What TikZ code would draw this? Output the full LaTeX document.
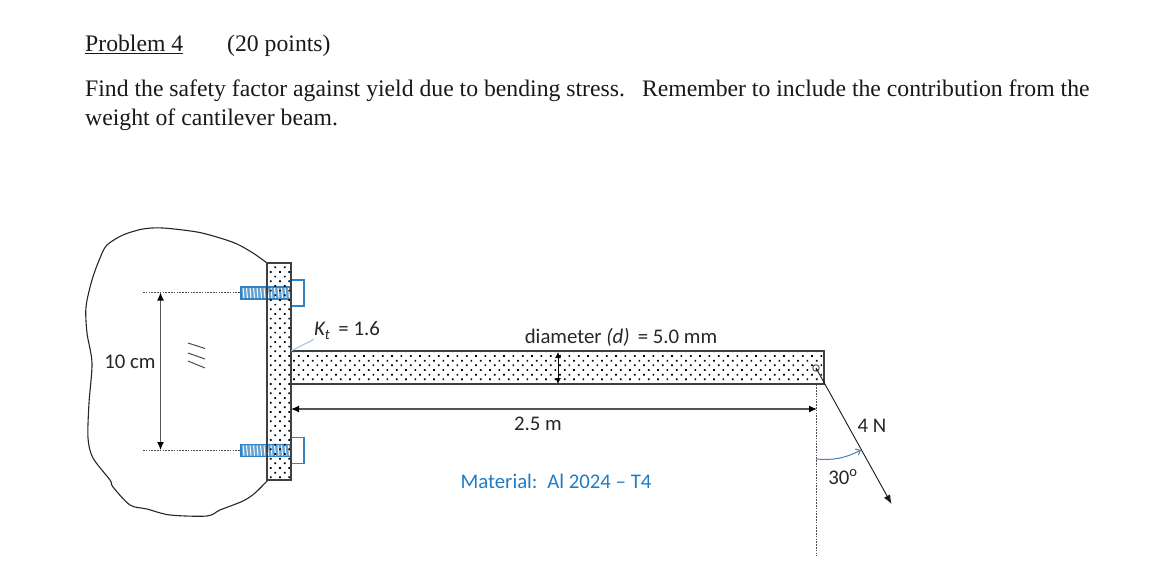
\documentclass[tikz,border=0pt]{standalone}
\usepackage{fontspec}
\setmainfont{Liberation Serif}
\newfontfamily\labelfont{Carlito}
\usepackage{xcolor}
\definecolor{colorBolt}{HTML}{2E83C6}
\definecolor{colorLeader}{HTML}{9CC3E6}
\definecolor{colorAngle}{HTML}{4A7FB0}
\definecolor{colorMaterial}{HTML}{1F7CC4}
\definecolor{colorDim}{HTML}{555555}
\usetikzlibrary{arrows.meta, patterns.meta}
\tikzset{
  prose/.style={anchor=base west, inner sep=0pt, font=\fontsize{23.7}{23.7}\selectfont, text=black!90},
  dimlabel/.style={inner sep=0pt, font=\labelfont\fontsize{20.8}{20.8}\selectfont, text=black!85},
  dotted fill/.style={draw=black!75, line width=1.2pt, pattern={Dots[distance=6.6pt, radius=1.2pt, angle=45]}, pattern color=black, inner sep=0pt, outer sep=0pt},
  boltshank/.style={draw=colorBolt, line width=1.2pt, fill=colorBolt!75, minimum width=50pt, minimum height=12pt, inner sep=0pt, outer sep=0pt},
  bolthead/.style={draw=colorBolt, line width=1.2pt, minimum width=13pt, minimum height=26pt, inner sep=0pt, outer sep=0pt},
  dimline/.style={draw=colorDim, line width=1.3pt, {Latex[length=8pt,width=7pt,black]}-{Latex[length=8pt,width=7pt,black]}},
  refline/.style={draw=black!70, line width=1pt, dash pattern=on 1.6pt off 1.2pt}
}
\begin{document}
\begin{tikzpicture}[x=1pt, y=-1pt]
\useasboundingbox (0,0) rectangle (1170,580);
% problem text
\node[prose] (title) at (85,51.5) {\underline{Problem 4}};
\node[prose] (points) at (227,51.5) {(20 points)};
\node[prose] (line1) at (85,96.5) {Find the safety factor against yield due to bending stress.\hspace{0.72em}Remember to include the contribution from the};
\node[prose] (line2) at (85,125.5) {weight of cantilever beam.};
% wall outline
\draw[black!85, line width=1.1pt] plot[smooth, tension=0.5] coordinates {(267,263) (253,253) (237,244) (220,238) (197,232) (163,228) (143,229) (123,235) (107,245) (100,258) (92,280) (86,307) (87,333) (92,363) (89,403) (88,438) (93,458) (110,480) (113,487) (130,505) (147,509) (170,515) (207,516) (220,510) (243,501) (255,493) (268,480)};
% bolts
\node[boltshank] (shankTop) at (266,293) {};
\node[boltshank] (shankBottom) at (266,450.5) {};
\node[bolthead, anchor=west] (headTop) at (shankTop.east) {};
\node[bolthead, anchor=west] (headBottom) at (shankBottom.east) {};
\foreach \x in {243,246.5,...,289} {
  \draw[white, line width=1pt] (\x,288) -- (\x+1,298);
  \draw[white, line width=1pt] (\x,445.5) -- (\x+1,455.5);
}
% plate and beam
\node[dotted fill, minimum width=24pt, minimum height=217pt] (plate) at (279,371.5) {};
\node[dotted fill, minimum width=533pt, minimum height=33pt] (beam) at (557.5,367.5) {};
\coordinate (dotTopA) at (143,292);
\coordinate (dotBottomA) at (143,450);
\draw[refline] (dotTopA) -- (shankTop.west |- dotTopA);
\draw[refline] (dotBottomA) -- (shankBottom.west |- dotBottomA);
% ten centimetre dimension
\coordinate (spanTop) at (160.5,292.5);
\coordinate (spanBottom) at (160.5,450);
\draw[dimline] (spanTop) -- (spanBottom);
\node[dimlabel] (spanLabel) at (130,362) {10 cm};
% ground hatch
\coordinate (hatchA) at (188,343);
\coordinate (hatchB) at (205,348.5);
\coordinate (hatchC) at (188,353);
\coordinate (hatchD) at (205,359);
\coordinate (hatchE) at (188,361);
\coordinate (hatchF) at (205,368);
\draw[black!70, line width=1pt] (hatchA) -- (hatchB) (hatchC) -- (hatchD) (hatchE) -- (hatchF);
% beam labels
\node[dimlabel] (ktLabel) at (347,330.5) {\textit{K\textsubscript{t}}\, = 1.6};
\draw[colorLeader, line width=1pt] (beam.north west) -- (ktLabel.south west);
\node[dimlabel] (diaLabel) at (621,337) {diameter \textit{(d)}\, = 5.0 mm};
\coordinate (diaTop) at (558,352);
\coordinate (diaBottom) at (558,384);
\draw[black, line width=0.8pt, {Latex[length=6pt,width=6pt]}-{Latex[length=6pt,width=6pt]}] (diaTop) -- (diaBottom);
% length dimension
\coordinate (lenEnd) at (817,409);
\draw[dimline] (plate.east |- lenEnd) -- (lenEnd);
\node[dimlabel] (lenLabel) at (538,424) {2.5 m};
\node[dimlabel, text=colorMaterial] (material) at (556,481) {Material:\, Al 2024 – T4};
% load
\node[draw=black!70, circle, line width=0.9pt, minimum size=6.5pt, inner sep=0pt] (pin) at (816,368) {};
\coordinate (loadEnd) at (891.5,504);
\coordinate (dropEnd) at (816,556);
\draw[refline] (816,384.5) -- (dropEnd);
\draw[black!90, line width=0.9pt, -{Latex[length=9pt,width=7pt]}] (pin.center) -- (loadEnd);
\coordinate (arcStart) at (816,459);
\coordinate (arcEnd) at (861,450);
\draw[colorAngle, line width=1pt, -{Straight Barb[length=4pt,width=7pt]}] (arcStart) to[bend right=16] (arcEnd);
\node[dimlabel] (forceLabel) at (872,426) {4 N};
\node[dimlabel] (angleLabel) at (843,477) {30\textsuperscript{o}};
\end{tikzpicture}
\end{document}
